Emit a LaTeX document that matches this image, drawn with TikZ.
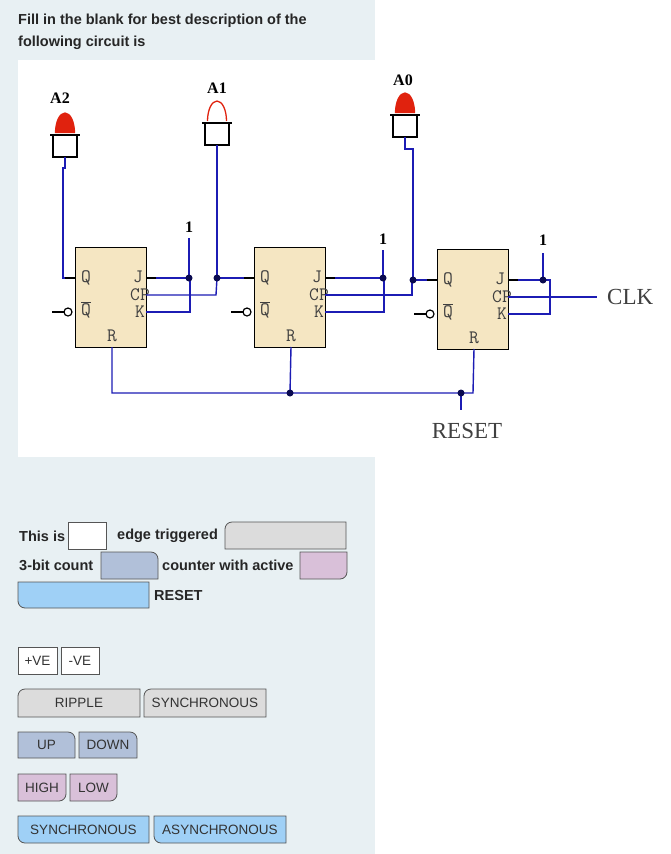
\documentclass[tikz,border=0pt]{standalone}
\usepackage{fontspec}
\usetikzlibrary{calc}
\setmainfont{Liberation Sans}
\newfontfamily\serif{Liberation Serif}
\definecolor{panel}{HTML}{E8F0F3}
\definecolor{wire}{HTML}{1C1CB4}
\definecolor{dotc}{HTML}{0A0A50}
\definecolor{ffill}{HTML}{F5E6C2}
\definecolor{bd}{HTML}{555555}
\definecolor{cgray}{HTML}{DCDCDC}
\definecolor{cblue}{HTML}{B1C0D9}
\definecolor{cpink}{HTML}{D9C0D9}
\definecolor{clight}{HTML}{9FD0F6}
\definecolor{ledred}{HTML}{E0220E}
\tikzset{
 w/.style={draw=wire,line width=1.4pt},
 stub/.style={draw=black,line width=1.4pt},
 jd/.style={circle,fill=dotc,inner sep=0pt,minimum size=7pt},
 ffb/.style={draw=black,line width=1.2pt,fill=ffill,minimum width=71pt,minimum height=100pt,inner sep=0pt},
 pin/.style={font=\ttfamily\fontsize{19}{19}\selectfont,text=black!75,inner sep=0pt},
 lab/.style={font=\serif\bfseries\fontsize{16}{16}\selectfont,inner sep=0pt},
 big/.style={font=\serif\fontsize{23}{23}\selectfont,text=black!75,inner sep=0pt},
 txt/.style={font=\bfseries\fontsize{14.5}{18}\selectfont,anchor=west,inner sep=0pt,text=black!85},
 btn/.style={font=\fontsize{13.5}{13.5}\selectfont,inner sep=0pt,text=black!80},
}
\newcommand\ffbox[3]{%
 \node[ffb,anchor=north west] (#1) at (#2,#3) {};
 \coordinate (#1q) at (#2,{#3+31});
 \coordinate (#1qb) at ({#2-23},{#3+65});
 \coordinate (#1j) at ({#2+71},{#3+31});
 \coordinate (#1cp) at ({#2+71},{#3+48});
 \coordinate (#1k) at ({#2+71},{#3+65});
 \coordinate (#1r) at ({#2+37},{#3+100});
 \node[pin] (#1lq) at ({#2+11},{#3+31}) {Q};
 \node[pin] (#1lqb) at ({#2+11},{#3+63}) {$\overline{\hbox{\ttfamily Q}}$};
 \node[pin,anchor=east] (#1lj) at ({#2+68},{#3+30}) {J};
 \node[pin,anchor=east] (#1lcp) at ({#2+75},{#3+48}) {CP};
 \node[pin,anchor=east] (#1lk) at ({#2+70},{#3+65}) {K};
 \node[pin] (#1lr) at ({#2+37},{#3+89}) {R};
 \draw[stub] (#1q) -- ++(-10,0);
 \draw[stub] (#1j) -- ++(10,0);
 \draw[stub] (#1qb) -- ++(12,0);
 \draw[black,line width=1.2pt,fill=white] ({#2-7},{#3+65}) circle (4);
}
\newcommand\led[5]{% name, cx, captop y, fill, label
 \draw[ledred,line width=1.3pt,fill=#4] ({#2-9.5},#3) arc[start angle=180,end angle=360,x radius=9.5,y radius=20];
 \draw[black,line width=1.3pt,fill=white] ({#2-12},{#3+2}) rectangle ({#2+12},{#3+24});
 \draw[black,line width=1.3pt] ({#2-15},{#3+2}) -- ({#2+15},{#3+2});
 \coordinate (#1) at (#2,{#3+24});
}
\newcommand\obox[8]{%
 \ifcase#7
 \filldraw[fill=#6,draw=bd,line width=0.8pt] (#2,#3) rectangle (#4,#5);
 \or
 \filldraw[fill=#6,draw=bd,line width=0.8pt] (#2,{(#3+#5)/2}) [rounded corners=7] -- (#2,#3) -- ({(#2+#4)/2},#3) [sharp corners] -- (#4,#3) -- (#4,#5) -- (#2,#5) -- cycle;
 \or
 \filldraw[fill=#6,draw=bd,line width=0.8pt] ({(#2+#4)/2},#3) [rounded corners=7] -- (#4,#3) -- (#4,{(#3+#5)/2}) [sharp corners] -- (#4,#5) -- (#2,#5) -- (#2,#3) -- cycle;
 \or
 \filldraw[fill=#6,draw=bd,line width=0.8pt] (#4,{(#3+#5)/2}) [rounded corners=7] -- (#4,#5) -- ({(#2+#4)/2},#5) [sharp corners] -- (#2,#5) -- (#2,#3) -- (#4,#3) -- cycle;
 \or
 \filldraw[fill=#6,draw=bd,line width=0.8pt] ({(#2+#4)/2},#5) [rounded corners=7] -- (#2,#5) -- (#2,{(#3+#5)/2}) [sharp corners] -- (#2,#3) -- (#4,#3) -- (#4,#5) -- cycle;
 \fi
 \node[btn] (#1) at ({(#2+#4)/2},{(#3+#5)/2}) {#8};
}
\begin{document}
\begin{tikzpicture}[x=1pt,y=-1pt]
\useasboundingbox (0,0) rectangle (670,854);
\fill[white] (0,0) rectangle (670,854);
\fill[panel] (0,0) rectangle (375,854);
\fill[white] (18,60) rectangle (375,457);
\node[txt] (h1) at (18,21) {Fill in the blank for best description of the};
\node[txt] (h2) at (18,43) {following circuit is};
% flip-flops
\ffbox{fa}{75}{247}
\ffbox{fb}{254}{247}
\ffbox{fc}{437}{249}
% LEDs
\led{la}{65}{133}{ledred}{}
\led{lb}{217}{121}{white}{}
\led{lc}{405}{113}{ledred}{}
\node[lab] (ta) at (60,98) {A2};
\node[lab] (tb) at (217,88) {A1};
\node[lab] (tc) at (403,80) {A0};
% junctions
\coordinate (j1) at (189,278); \coordinate (j2) at (217,278);
\coordinate (j3) at (383,278); \coordinate (j4) at (413,280);
\coordinate (j5) at (543,280); \coordinate (j6) at (290,393);
\coordinate (j7) at (461,393);
\coordinate (o1) at (189,238); \coordinate (o2) at (383,250); \coordinate (o3) at (543,253);
\node[lab] (n1) at (189,227) {1};
\node[lab] (n2) at (383,239) {1};
\node[lab] (n3) at (543,240) {1};
% wires
\draw[w] (la) -- (65,168) -- (63,168) -- (63,278) -- ($(faq)+(-10,0)$);
\draw[w] ($(faj)+(10,0)$) -- (j1);
\draw[w] (o1) -- (j1);
\draw[w] (fak) -- (190,312) -- (190,278);
\draw[w] (facp) -- (216,295) -- (j2);
\draw[w] (lb) -- (j2) -- ($(fbq)+(-10,0)$);
\draw[w] ($(fbj)+(10,0)$) -- (j3);
\draw[w] (o2) -- (j3);
\draw[w] (fbk) -- (384,312) -- (384,278);
\draw[w] (fbcp) -- (412,295) -- (412,280);
\draw[w] (lc) -- (405,149) -- (413,149) -- (j4) -- ($(fcq)+(-10,0)$);
\draw[w] ($(fcj)+(10,0)$) -- (j5);
\draw[w] (o3) -- (j5);
\draw[w] (fck) -- (550,314) -- (550,280) -- (j5);
\coordinate (clk) at (597,297);
\draw[w] (fccp) -- (clk);
\node[big,anchor=west] (tclk) at (607,297) {CLK};
\draw[w] (far) -- (112,393) -- (j6) -- (j7) -- (473,393) -- (fcr);
\draw[w] (fbr) -- (j6);
\coordinate (rs) at (461,410);
\draw[w] (j7) -- (rs);
\node[big] (trs) at (467,431) {RESET};
\foreach \p in {j1,j2,j3,j4,j5,j6,j7} \node[jd] at (\p) {};
% question
\node[txt] (q1) at (19,536) {This is};
\obox{b1}{68}{522}{106}{549}{white}{0}{}
\node[txt] (q2) at (117,536) {edge triggered};
\obox{b2}{225}{522}{346}{549}{cgray}{1}{}
\node[txt] (q3) at (19,565) {3-bit count};
\obox{b3}{101}{552}{158}{579}{cblue}{2}{}
\node[txt] (q4) at (162,565) {counter with active};
\obox{b4}{300}{552}{347}{579}{cpink}{3}{}
\obox{b5}{18}{582}{149}{608}{clight}{4}{}
\node[txt] (q5) at (154,595) {RESET};
% options
\obox{op}{18}{647}{57}{674}{white}{0}{+VE}
\obox{om}{61}{647}{99}{674}{white}{0}{-VE}
\obox{or}{18}{689}{140}{717}{cgray}{1}{RIPPLE}
\obox{os}{144}{689}{266}{717}{cgray}{1}{SYNCHRONOUS}
\obox{ou}{18}{732}{75}{758}{cblue}{2}{UP}
\obox{od}{79}{732}{137}{758}{cblue}{2}{DOWN}
\obox{oh}{18}{774}{66}{801}{cpink}{3}{HIGH}
\obox{ol}{70}{774}{117}{801}{cpink}{3}{LOW}
\obox{oy}{18}{816}{149}{843}{clight}{4}{SYNCHRONOUS}
\obox{oa}{154}{816}{286}{843}{clight}{4}{ASYNCHRONOUS}
\end{tikzpicture}
\end{document}
